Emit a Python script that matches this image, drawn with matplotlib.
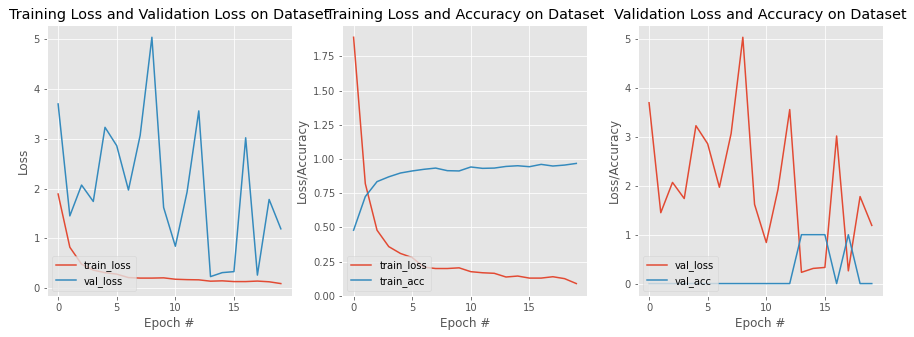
import numpy as np
import matplotlib
matplotlib.use("Agg")
import matplotlib.pyplot as plt

plt.style.use("ggplot")

# values
epochs = np.arange(20)
train_loss = [1.89, 0.82, 0.48, 0.36, 0.31, 0.28, 0.21, 0.20, 0.20, 0.205,
              0.177, 0.169, 0.165, 0.138, 0.145, 0.13, 0.13, 0.14, 0.126, 0.09]
train_acc = [0.48, 0.726, 0.835, 0.87, 0.898, 0.913, 0.925, 0.934, 0.915, 0.913,
             0.942, 0.932, 0.934, 0.946, 0.951, 0.944, 0.961, 0.949, 0.956, 0.968]
val_loss = [3.7, 1.45, 2.07, 1.74, 3.23, 2.86, 1.97, 3.07, 5.04, 1.62,
            0.84, 1.93, 3.56, 0.23, 0.31, 0.33, 3.02, 0.26, 1.78, 1.19]
val_acc = [0, 0, 0, 0, 0, 0, 0, 0, 0, 0,
           0, 0, 0, 1, 1, 1, 0, 1, 0, 0]

fig, axes = plt.subplots(1, 3, figsize=(914 / 72, 337 / 72), dpi=72)
fig.subplots_adjust(left=0.0514, right=0.966, bottom=0.122, top=0.926, wspace=0.206)

# panel 1
ax = axes[0]
ax.plot(epochs, train_loss, label="train_loss")
ax.plot(epochs, val_loss, label="val_loss")
ax.set_title("Training Loss and Validation Loss on Dataset")
ax.set_xlabel("Epoch #")
ax.set_ylabel("Loss")
ax.legend(loc="lower left")

# panel 2
ax = axes[1]
ax.plot(epochs, train_loss, label="train_loss")
ax.plot(epochs, train_acc, label="train_acc")
ax.set_title("Training Loss and Accuracy on Dataset")
ax.set_xlabel("Epoch #")
ax.set_ylabel("Loss/Accuracy")
ax.legend(loc="lower left")

# panel 3
ax = axes[2]
ax.plot(epochs, val_loss, label="val_loss")
ax.plot(epochs, val_acc, label="val_acc")
ax.set_title("Validation Loss and Accuracy on Dataset")
ax.set_xlabel("Epoch #")
ax.set_ylabel("Loss/Accuracy")
ax.legend(loc="lower left")

fig.savefig("out.png", dpi=72)
